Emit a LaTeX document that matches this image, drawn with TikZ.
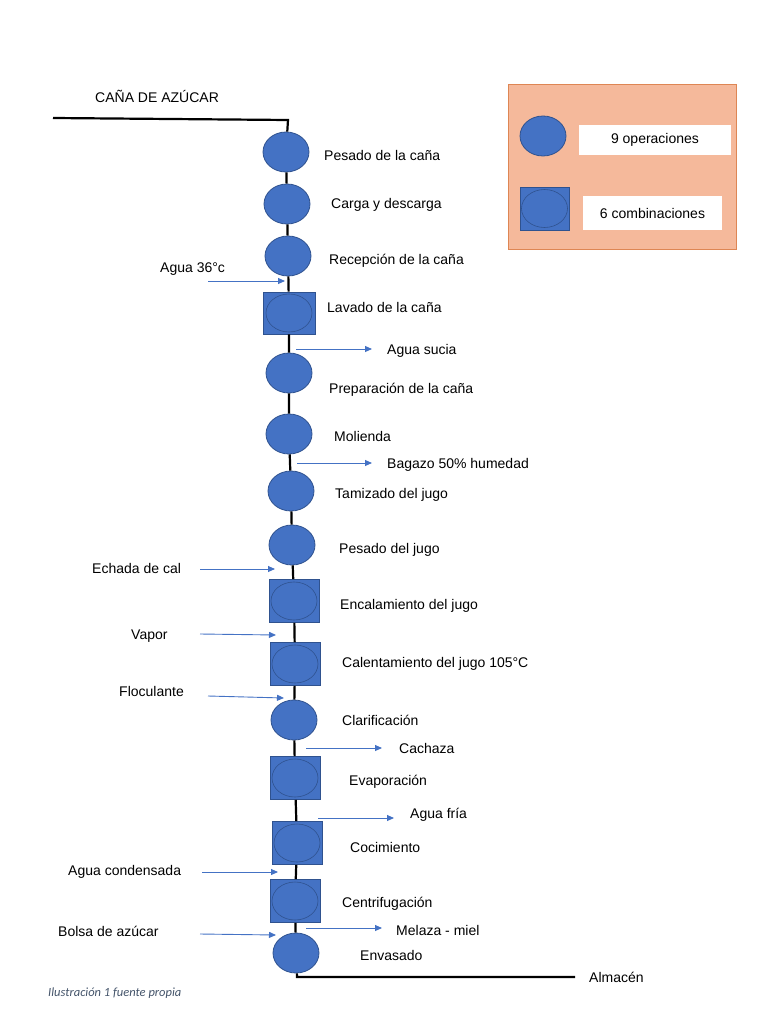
\documentclass[tikz,border=0pt]{standalone}
\usepackage{fontspec}
\setmainfont{Liberation Sans}
\newfontfamily\capfont{Carlito}
\usetikzlibrary{positioning,arrows.meta,shapes.geometric}
\definecolor{opblue}{RGB}{68,114,196}
\definecolor{opedge}{RGB}{47,82,143}
\definecolor{salmon}{RGB}{245,185,155}
\definecolor{salmonedge}{RGB}{222,134,84}
\definecolor{capgray}{RGB}{68,84,106}
\tikzset{
  op/.style={ellipse,draw=opedge,line width=0.8pt,fill=opblue,minimum width=46pt,minimum height=40pt,inner sep=0pt},
  comb/.style={rectangle,draw=opedge,line width=0.8pt,fill=opblue,minimum width=50pt,minimum height=43pt,inner sep=0pt,
    path picture={\draw[opedge,line width=0.6pt] (path picture bounding box.center) ellipse (23pt and 19pt);}},
  lbl/.style={anchor=base west,font=\fontsize{14}{16}\selectfont,inner sep=0pt},
  tag/.style={fill=white,font=\fontsize{14}{16}\selectfont,inner sep=0pt},
  spine/.style={line width=2.2pt},
  flow/.style={-{Triangle[length=7pt,width=6pt]},draw=opblue,line width=0.9pt},
}

\begin{document}
\begin{tikzpicture}[x=1pt,y=-1pt]
  \useasboundingbox (0,0) rectangle (768,1024);
  % process chain
  \node[op]   (pes) at (286,152) {};
  \node[op]   (car) at (287,204) {};
  \node[op]   (rec) at (288,256) {};
  \node[comb,minimum width=52pt,minimum height=42pt] (lav) at (289,313) {};
  \node[op]   (pre) at (289,373) {};
  \node[op]   (mol) at (289,434) {};
  \node[op]   (tam) at (291,491) {};
  \node[op]   (pju) at (292,545) {};
  \node[comb] (enc) at (294,601) {};
  \node[comb] (cal) at (295,664) {};
  \node[op]   (cla) at (294,720) {};
  \node[comb] (eva) at (295,778) {};
  \node[comb] (coc) at (297,843) {};
  \node[comb] (cen) at (295,901) {};
  \node[op]   (env) at (296,953) {};
  \coordinate (cin) at (53,118);
  \coordinate (ctop) at (288,120);
  \coordinate (cbot) at (297,977);
  \coordinate (cout) at (575,977);
  \draw[spine] (cin) -- (ctop) -- (pes) -- (car) -- (rec) -- (lav) -- (pre) -- (mol) -- (tam)
    -- (pju) -- (enc) -- (cal) -- (cla) -- (eva) -- (coc) -- (cen) -- (env) -- (cbot) -- (cout);

  % step names
  \node[lbl] (tcana) at (95,103) {CAÑA DE AZÚCAR};
  \node[lbl] (tpes) at (324,161) {Pesado de la caña};
  \node[lbl] (tcar) at (331,209) {Carga y descarga};
  \node[lbl] (trec) at (329,264) {Recepción de la caña};
  \node[lbl] (tlav) at (327,312) {Lavado de la caña};
  \node[lbl] (tpre) at (329,393) {Preparación de la caña};
  \node[lbl] (tmol) at (334,441) {Molienda};
  \node[lbl] (ttam) at (335,498) {Tamizado del jugo};
  \node[lbl] (tpju) at (339,553) {Pesado del jugo};
  \node[lbl] (tenc) at (340,609) {Encalamiento del jugo};
  \node[lbl] (tcal) at (342,667) {Calentamiento del jugo 105°C};
  \node[lbl] (tcla) at (342,725) {Clarificación};
  \node[lbl] (teva) at (349,785) {Evaporación};
  \node[lbl] (tcoc) at (350,852) {Cocimiento};
  \node[lbl] (tcen) at (342,907) {Centrifugación};
  \node[lbl] (tenv) at (360,960) {Envasado};
  \node[lbl] (talm) at (589,982) {Almacén};

  % inputs
  \node[lbl] (iagua) at (160,272) {Agua 36°c};
  \node[lbl] (ical) at (92,573) {Echada de cal};
  \node[lbl] (ivap) at (131,639) {Vapor};
  \node[lbl] (iflo) at (119,696) {Floculante};
  \node[lbl] (icon) at (68,875) {Agua condensada};
  \node[lbl] (ibol) at (58,936) {Bolsa de azúcar};
  \coordinate (a1) at (208,281); \coordinate (b1) at (285,281);
  \coordinate (a2) at (200,569); \coordinate (b2) at (275,569);
  \coordinate (a3) at (200,634); \coordinate (b3) at (276,635);
  \coordinate (a4) at (208,696); \coordinate (b4) at (284,698);
  \coordinate (a5) at (202,872); \coordinate (b5) at (278,872);
  \coordinate (a6) at (200,934); \coordinate (b6) at (276,935);
  \draw[flow] (a1) -- (b1); \draw[flow] (a2) -- (b2); \draw[flow] (a3) -- (b3);
  \draw[flow] (a4) -- (b4); \draw[flow] (a5) -- (b5); \draw[flow] (a6) -- (b6);

  % outputs
  \node[lbl] (osuc) at (387,354) {Agua sucia};
  \node[lbl] (obag) at (387,468) {Bagazo 50\% humedad};
  \node[lbl] (ocac) at (399,753) {Cachaza};
  \node[lbl] (ofri) at (410,818) {Agua fría};
  \node[lbl] (omel) at (396,935) {Melaza - miel};
  \coordinate (c1) at (296,349); \coordinate (d1) at (372,349);
  \coordinate (c2) at (297,463); \coordinate (d2) at (372,463);
  \coordinate (c3) at (306,748); \coordinate (d3) at (382,748);
  \coordinate (c4) at (318,818); \coordinate (d4) at (394,818);
  \coordinate (c5) at (306,928); \coordinate (d5) at (382,928);
  \draw[flow] (c1) -- (d1); \draw[flow] (c2) -- (d2); \draw[flow] (c3) -- (d3);
  \draw[flow] (c4) -- (d4); \draw[flow] (c5) -- (d5);

  % legend
  \node[draw=salmonedge,fill=salmon,minimum width=228pt,minimum height=165pt] (leg) at (622,166.5) {};
  \node[op] (legop) at (543,136) {};
  \node[tag,minimum width=152pt,minimum height=30pt] (tagop) at (655,140) {9 operaciones};
  \node[comb,minimum width=49pt,minimum height=43pt] (legcomb) at (544.5,208.5) {};
  \node[tag,minimum width=139pt,minimum height=34pt] (tagcomb) at (652.5,213) {6 combinaciones};

  \node[anchor=west,inner sep=0pt,text=capgray,font=\capfont\itshape\fontsize{12.5}{14}\selectfont] (cap) at (48,993) {Ilustración 1 fuente propia};
\end{tikzpicture}
\end{document}
